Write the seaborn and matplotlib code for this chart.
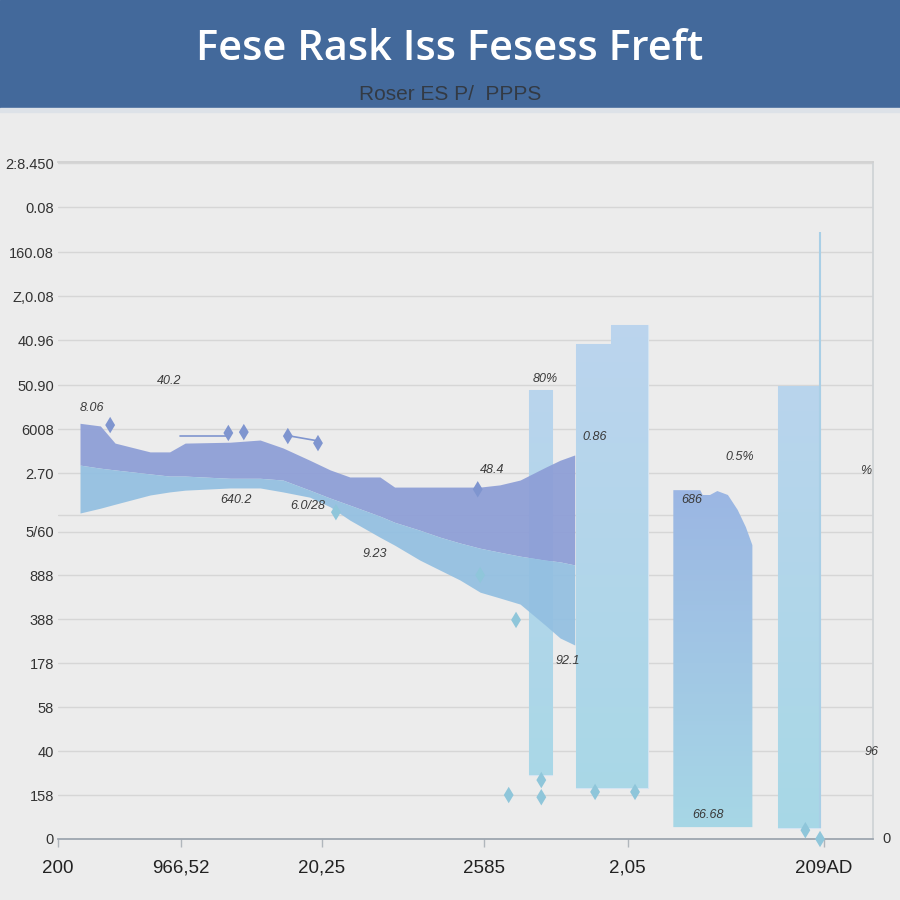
import numpy as np
import matplotlib
matplotlib.use("Agg")
import matplotlib.pyplot as plt
from matplotlib.patches import Rectangle
from matplotlib.colors import LinearSegmentedColormap
import seaborn as sns

# ---- data ----
title = "Fese Rask Iss Fesess Freft"
subtitle = "Roser ES P/  PPPS"

ytick_pos = [0, 1, 2, 3, 4, 5, 6, 6.98, 8.32, 9.32, 10.32, 11.34, 12.34, 13.34, 14.36, 15.36]
ytick_labels = ["0", "158", "40", "58", "178", "388", "888", "5/60", "2.70",
                "6008", "50.90", "40.96", "Z,0.08", "160.08", "0.08", "2:8.450"]
xtick_pos = [0, 15.1, 32.4, 52.3, 69.9, 94.0]
xtick_labels = ["200", "966,52", "20,25", "2585", "2,05", "209AD"]

# layered area (top edge, band boundary, bottom edge)
area_x = [2.7, 5.2, 7.0, 11.3, 13.7, 15.6, 21.1, 24.8, 27.6, 30.9, 33.4, 35.8,
          39.5, 41.3, 44.4, 46.9, 49.3, 51.8, 54.2, 56.7, 59.8, 61.6, 63.4]
area_top = [9.45, 9.39, 9.0, 8.80, 8.80, 9.0, 9.02, 9.07, 8.89, 8.61, 8.39, 8.23,
            8.23, 8.0, 8.0, 8.0, 8.0, 8.0, 8.05, 8.16, 8.45, 8.61, 8.73]
area_mid = [8.50, 8.43, 8.39, 8.30, 8.25, 8.25, 8.20, 8.20, 8.16, 7.93, 7.75, 7.59,
            7.34, 7.20, 7.02, 6.86, 6.73, 6.61, 6.52, 6.43, 6.34, 6.30, 6.23]
area_bottom = [7.41, 7.52, 7.61, 7.82, 7.89, 7.93, 7.98, 7.98, 7.89, 7.77, 7.55, 7.25,
               6.86, 6.68, 6.34, 6.11, 5.89, 5.61, 5.48, 5.34, 4.86, 4.57, 4.41]

# floating bars
bar_x = [59.2, 65.75, 70.15, 90.9]
bar_w = [2.9, 4.3, 4.5, 5.2]
bar_low = [1.45, 1.16, 1.16, 0.25]
bar_high = [10.2, 11.25, 11.68, 10.30]

# irregular block
block_x = [75.5, 78.8, 79.1, 80.0, 80.9, 82.2, 83.4, 84.4, 85.2]
block_top = [7.93, 7.93, 7.82, 7.82, 7.91, 7.82, 7.48, 7.09, 6.68]
block_low = 0.27

# markers
purple_x = [6.4, 20.9, 22.8, 28.2, 31.9, 51.5]
purple_y = [9.41, 9.23, 9.25, 9.16, 9.0, 7.95]
cyan_x = [34.1, 51.8, 56.2, 55.3, 59.3, 59.3, 65.9, 70.8, 91.7, 93.5]
cyan_y = [7.43, 6.0, 4.98, 1.0, 1.34, 0.95, 1.07, 1.07, 0.20, 0.0]
seg1_x, seg1_y = [15.0, 20.9], [9.16, 9.16]
seg2_x, seg2_y = [28.5, 31.9], [9.16, 9.05]

notes = ["8.06", "40.2", "640.2", "6.0/28", "9.23", "48.4", "80%", "0.86",
         "0.5%", "686", "92.1", "66.68", "%", "96"]
note_x = [4.2, 13.7, 21.8, 30.6, 38.9, 53.3, 59.8, 65.8, 83.7, 77.8, 62.6, 79.8, 99.1, 99.8]
note_y = [9.80, 10.41, 7.70, 7.57, 6.48, 8.39, 10.45, 9.14, 8.68, 7.70, 4.05, 0.55, 8.36, 1.98]

spike_x = 93.5
spike_range = (0.25, 13.8)

# ---- style ----
sns.set_theme(style="whitegrid")
plt.rcParams["font.family"] = ["Liberation Sans", "DejaVu Sans"]
bg = "#ececec"

fig = plt.figure(figsize=(9, 9), dpi=100, facecolor=bg)
fig.patches.append(Rectangle((0, 1 - 108 / 900), 1, 108 / 900, transform=fig.transFigure,
                             color="#43699b", zorder=0))
fig.patches.append(Rectangle((0, 1 - 112 / 900), 1, 4 / 900, transform=fig.transFigure,
                             color="#dde2e8", zorder=0))
fig.text(0.5, 1 - 49 / 900, title, ha="center", va="center", color="white",
         fontsize=30, family="Open Sans", fontweight="semibold")
fig.text(0.5, 1 - 95 / 900, subtitle, ha="center", va="center", color="#333a44",
         fontsize=15, family="Liberation Sans")

ax = fig.add_axes([58 / 900, 61 / 900, 815 / 900, 677 / 900])
ax.set_facecolor(bg)


def gradient(ax, clip, top_color, bottom_color, y0, y1, alpha=1.0, z=2, transform=None):
    cmap = LinearSegmentedColormap.from_list("g", [bottom_color, top_color])
    grad = np.linspace(0, 1, 256).reshape(-1, 1)
    im = ax.imshow(grad, cmap=cmap, extent=(0, 100, y0, y1), origin="lower",
                   aspect="auto", alpha=alpha, zorder=z)
    if transform is None:
        im.set_clip_path(clip)
    else:
        im.set_clip_path(clip, transform)


# bars with a soft blue gradient
bars = ax.bar(bar_x, np.array(bar_high) - np.array(bar_low), width=bar_w, bottom=bar_low,
              color="none", edgecolor="#d3e4f2", linewidth=0.8, zorder=2)
for b in bars:
    gradient(ax, b, "#bcd4ee", "#a7d8e6", 0, 12, z=2)

blk = ax.fill_between(block_x, block_low, block_top, color="none", lw=0, zorder=2)
gradient(ax, blk.get_paths()[0], "#9bb6e3", "#a7d8e6", 0, 8, z=2, transform=ax.transData)

# layered area
ax.fill_between(area_x, area_mid, area_top, color="#8c9dd6", alpha=0.92, lw=0, zorder=3)
ax.fill_between(area_x, area_bottom, area_mid, color="#92bfe1", alpha=0.92, lw=0, zorder=3)

ax.vlines(spike_x, *spike_range, color="#a9cfe6", lw=1.5, zorder=3)

sns.lineplot(x=seg1_x, y=seg1_y, ax=ax, color="#7f95cf", lw=1.2, zorder=4)
sns.lineplot(x=seg2_x, y=seg2_y, ax=ax, color="#7f95cf", lw=1.2, zorder=4)
sns.scatterplot(x=purple_x, y=purple_y, ax=ax, marker="d", s=70, color="#7f95cf",
                edgecolor="none", zorder=5)
sns.scatterplot(x=cyan_x, y=cyan_y, ax=ax, marker="d", s=70, color="#8fc6da",
                edgecolor="none", zorder=5, clip_on=False)

for t, x, y in zip(notes, note_x, note_y):
    ax.text(x, y, t, ha="center", va="center", fontsize=9, color="#3a3a3a",
            style="italic", zorder=6, clip_on=False)

ax.text(101.1, 0, "0", ha="left", va="center", fontsize=10.5, color="#333333", clip_on=False)

# axes, grid, ticks
ax.set_xlim(0, 100)
ax.set_ylim(0, 15.39)
ax.set_yticks(ytick_pos)
ax.set_yticklabels(ytick_labels)
ax.set_xticks(xtick_pos)
ax.set_xticklabels(xtick_labels)
ax.axhline(7.36, color="#d6d6d6", lw=1, zorder=0)
ax.grid(axis="y", color="#d6d6d6", lw=1)
ax.grid(axis="x", visible=False)
ax.tick_params(axis="y", length=0, pad=3, labelsize=10.5, labelcolor="#333333")
ax.tick_params(axis="x", length=6, width=1, color="#b0b6bc", direction="out", pad=9,
               labelsize=13.5, labelcolor="#222222", bottom=True)
ax.spines["left"].set_visible(False)
ax.spines["bottom"].set_color("#9aa3ad")
ax.spines["right"].set_color("#cfd3d6")
ax.spines["top"].set_color("#d0d0d0")
ax.set_axisbelow(True)

fig.savefig("out.png", dpi=100, facecolor=bg)
